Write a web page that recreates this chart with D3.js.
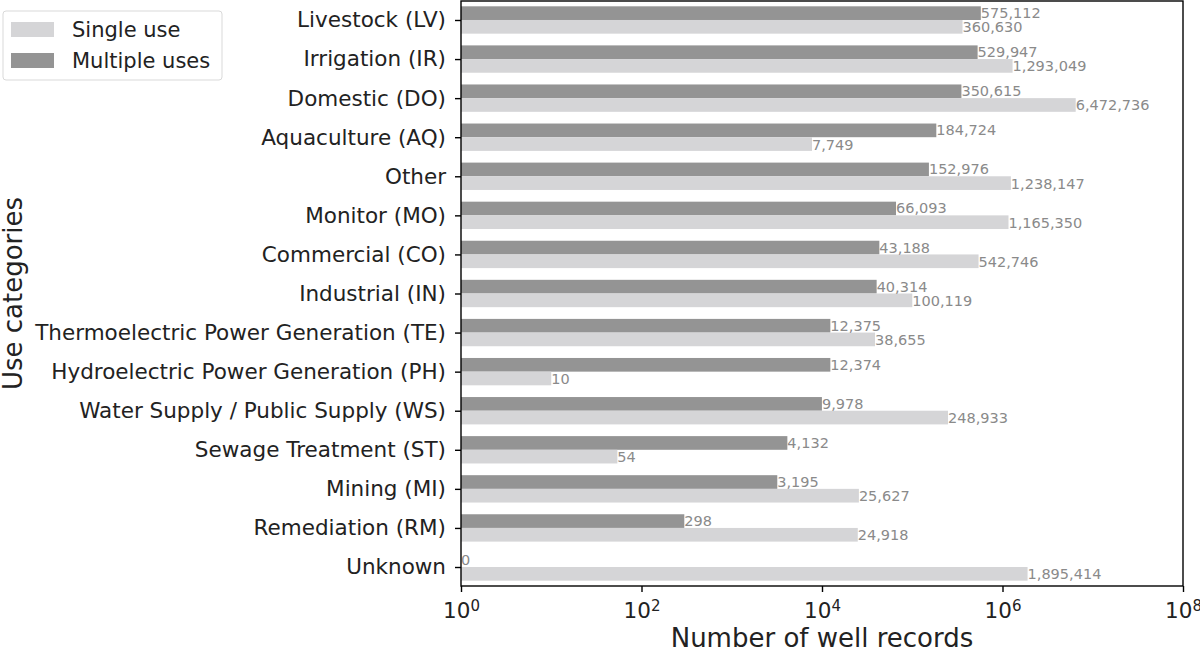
<!DOCTYPE html>
<html>
<head>
<meta charset="utf-8">
<script src="https://cdn.jsdelivr.net/npm/d3@7"></script>
<style>
  body { margin: 0; background: #fff; }
  svg { font-family: "DejaVu Sans", sans-serif; }
</style>
</head>
<body>
<div id="chart"></div>
<script>
// chart data
var categories = [
  "Livestock (LV)", "Irrigation (IR)", "Domestic (DO)", "Aquaculture (AQ)", "Other",
  "Monitor (MO)", "Commercial (CO)", "Industrial (IN)",
  "Thermoelectric Power Generation (TE)", "Hydroelectric Power Generation (PH)",
  "Water Supply / Public Supply (WS)", "Sewage Treatment (ST)", "Mining (MI)",
  "Remediation (RM)", "Unknown"
];
var multipleUses = [575112, 529947, 350615, 184724, 152976, 66093, 43188, 40314,
  12375, 12374, 9978, 4132, 3195, 298, 0];
var singleUse = [360630, 1293049, 6472736, 7749, 1238147, 1165350, 542746, 100119,
  38655, 10, 248933, 54, 25627, 24918, 1895414];
var xTickValues = [1, 100, 10000, 1000000, 100000000];
var seriesNames = ["Single use", "Multiple uses"];

var svgWidth = 1200;
var svgHeight = 654;
var margin = { top: 1, right: 17, bottom: 68, left: 461 };
var width = svgWidth - margin.left - margin.right;
var height = svgHeight - margin.top - margin.bottom;

var colors = { single: "#d5d5d7", multiple: "#949494" };
var barW = 0.35;

var svg = d3.select("#chart").append("svg")
  .attr("width", svgWidth)
  .attr("height", svgHeight);

var g = svg.append("g")
  .attr("transform", `translate(${margin.left}, ${margin.top})`);

// x: log scale, y: category index
var x = d3.scaleLog().domain([1, 1e8]).range([0, width]).clamp(true);
var y = d3.scaleLinear().domain([-0.486, categories.length - 1 + 0.486]).range([0, height]);

var fmt = d3.format(",");

var rows = categories.map(function(c, i) {
  return { name: c, i: i, multi: multipleUses[i], single: singleUse[i] };
});

// multiple uses bars sit above the tick, single use below
g.selectAll(".bar-multi").data(rows).enter().append("rect")
  .attr("class", "bar-multi")
  .attr("x", 0)
  .attr("y", d => y(d.i - barW))
  .attr("width", d => x(Math.max(d.multi, 1)))
  .attr("height", y(barW) - y(0))
  .attr("fill", colors.multiple);

g.selectAll(".bar-single").data(rows).enter().append("rect")
  .attr("class", "bar-single")
  .attr("x", 0)
  .attr("y", d => y(d.i))
  .attr("width", d => x(Math.max(d.single, 1)))
  .attr("height", y(barW) - y(0))
  .attr("fill", colors.single);

// value labels
var labelColor = "#8a8a8a";
g.selectAll(".lab-multi").data(rows).enter().append("text")
  .attr("x", d => x(Math.max(d.multi, 1)))
  .attr("y", d => y(d.i - barW / 2))
  .attr("dy", "0.34em")
  .attr("font-size", 14.5)
  .attr("fill", labelColor)
  .text(d => fmt(d.multi));

g.selectAll(".lab-single").data(rows).enter().append("text")
  .attr("x", d => x(Math.max(d.single, 1)))
  .attr("y", d => y(d.i + barW / 2))
  .attr("dy", "0.38em")
  .attr("font-size", 14.5)
  .attr("fill", labelColor)
  .text(d => fmt(d.single));

// frame
g.append("rect")
  .attr("x", 0).attr("y", 0)
  .attr("width", width).attr("height", height)
  .attr("fill", "none")
  .attr("stroke", "#000")
  .attr("stroke-width", 1.4);

// y axis
var yAxis = d3.axisLeft(y)
  .tickValues(d3.range(categories.length))
  .tickFormat(i => categories[i])
  .tickSize(6)
  .tickPadding(9);
var yg = g.append("g").call(yAxis);
yg.select(".domain").remove();
yg.selectAll("line").attr("stroke", "#000").attr("stroke-width", 1.4);
yg.selectAll("text").attr("font-size", 21.5).attr("fill", "#222")
  .attr("font-family", "DejaVu Sans, sans-serif");

// x axis with powers of ten
var xAxis = d3.axisBottom(x)
  .tickValues(xTickValues)
  .tickFormat("")
  .tickSize(6);
var xg = g.append("g").attr("transform", `translate(0, ${height})`).call(xAxis);
xg.select(".domain").remove();
xg.selectAll("line").attr("stroke", "#000").attr("stroke-width", 1.4);

xg.selectAll(".tick").append("text")
  .attr("y", 32)
  .attr("text-anchor", "middle")
  .attr("font-size", 21.5)
  .attr("fill", "#222")
  .attr("font-family", "DejaVu Sans, sans-serif")
  .each(function(d) {
    var t = d3.select(this);
    t.append("tspan").text("10");
    t.append("tspan").attr("dy", "-0.45em").attr("font-size", 15)
      .text(Math.round(Math.log10(d)));
  });

// axis titles
svg.append("text")
  .attr("x", margin.left + width / 2)
  .attr("y", 647)
  .attr("text-anchor", "middle")
  .attr("font-size", 26)
  .attr("fill", "#222")
  .text("Number of well records");

svg.append("text")
  .attr("transform", `translate(22, ${margin.top + height / 2}) rotate(-90)`)
  .attr("text-anchor", "middle")
  .attr("font-size", 26)
  .attr("fill", "#222")
  .text("Use categories");

// legend
var legend = svg.append("g").attr("transform", "translate(3, 11)");
legend.append("rect")
  .attr("width", 219).attr("height", 69)
  .attr("rx", 3)
  .attr("fill", "#fff")
  .attr("fill-opacity", 0.85)
  .attr("stroke", "#d9d9d9");
[colors.single, colors.multiple].forEach(function(c, k) {
  legend.append("rect")
    .attr("x", 8).attr("y", 11 + k * 31)
    .attr("width", 43).attr("height", 15)
    .attr("fill", c);
  legend.append("text")
    .attr("x", 69).attr("y", 18 + k * 31)
    .attr("dy", "0.36em")
    .attr("font-size", 21)
    .attr("fill", "#222")
    .text(seriesNames[k]);
});
</script>
</body>
</html>
